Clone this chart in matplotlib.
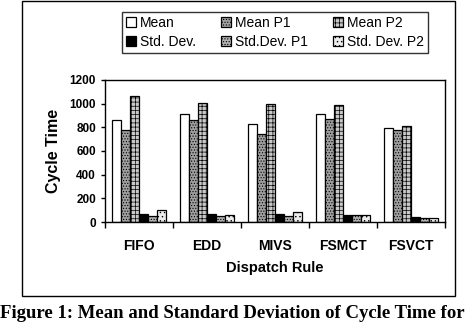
import matplotlib
matplotlib.use("Agg")
import matplotlib.pyplot as plt
import numpy as np
from matplotlib.patches import Rectangle

categories = ["FIFO", "EDD", "MIVS", "FSMCT", "FSVCT"]
series_names = ["Mean", "Mean P1", "Mean P2", "Std. Dev.", "Std.Dev. P1", "Std. Dev. P2"]
mean = [860, 915, 830, 915, 790]
mean_p1 = [775, 865, 745, 873, 775]
mean_p2 = [1062, 1006, 994, 986, 808]
std = [68, 65, 68, 60, 40]
std_p1 = [52, 52, 52, 55, 30]
std_p2 = [98, 60, 88, 60, 35]
yticks = [0, 200, 400, 600, 800, 1000, 1200]

plt.rcParams['font.family'] = ['Liberation Sans', 'DejaVu Sans']
plt.rcParams['hatch.linewidth'] = 0.5
fig = plt.figure(figsize=(4.74, 3.26), dpi=100)
ax = fig.add_axes([0.2215, 0.319, 0.7175, 0.436])

values = [mean, mean_p1, mean_p2, std, std_p1, std_p2]
faces = ["white", "#a0a0a0", "#c8c8c8", "black", "#b0b0b0", "#ececec"]
hatches = [None, "......", "++++", None, "......", "...."]
x = np.arange(len(categories))
w = 0.133
handles = []
for i, (vals, fc, h) in enumerate(zip(values, faces, hatches)):
    b = ax.bar(x - 2.5 * w + i * w, vals, w, facecolor=fc, edgecolor="black",
               linewidth=0.9, hatch=h, label=series_names[i])
    handles.append(b)

ax.set_xlim(-0.5, len(categories) - 0.5)
ax.set_ylim(0, 1200)
ax.set_yticks(yticks)
ax.set_yticklabels([str(t) for t in yticks], fontsize=8.5, fontweight="bold")
ax.set_xticks(x)
ax.set_xticklabels(categories, fontsize=10, fontweight="bold")
ax.tick_params(axis="x", length=0, pad=12)
ax.set_xticks(np.arange(-0.5, len(categories), 1), minor=True)
ax.tick_params(axis="x", which="minor", length=4, width=1, direction="out")
ax.tick_params(axis="y", length=3, width=1, direction="out")
for s in ax.spines.values():
    s.set_linewidth(1)
ax.set_ylabel("Cycle Time", fontsize=11.5, fontweight="bold", labelpad=6)
ax.set_xlabel("Dispatch Rule", fontsize=10.5, fontweight="bold", labelpad=6)

order = [0, 3, 1, 4, 2, 5]
leg = fig.legend([handles[i] for i in order], [series_names[i] for i in order],
                 ncol=3, loc="upper left", bbox_to_anchor=(0.243, 0.985),
                 fontsize=10, frameon=True, fancybox=False, edgecolor="black",
                 handlelength=0.7, handleheight=0.7, handletextpad=0.3,
                 columnspacing=1.8, borderpad=0.3, labelspacing=0.35)
leg.get_frame().set_linewidth(1)

fig.patches.append(Rectangle((22 / 474, 1 - 296 / 326), (455 - 22) / 474, 296 / 326 - 0.004,
                             transform=fig.transFigure, fill=False, edgecolor="black",
                             linewidth=1))

fig.text(0.0, 1 - 314 / 326, "Figure 1: Mean and Standard Deviation of Cycle Time for",
         fontsize=13.5, fontweight="bold", family=["Liberation Serif", "DejaVu Serif"],
         va="center", ha="left")

fig.savefig("out.png", dpi=100)
